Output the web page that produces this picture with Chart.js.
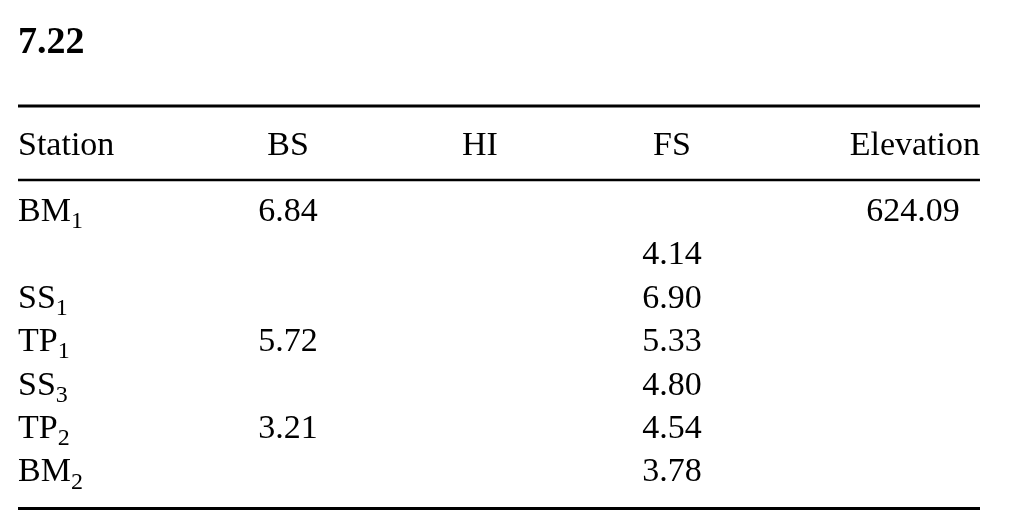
<!DOCTYPE html>
<html>
<head>
<meta charset="utf-8">
<script src="https://cdn.jsdelivr.net/npm/chart.js@4"></script>
<style>
  html, body { margin: 0; padding: 0; background: #fff; }
  #wrap { width: 1013px; height: 523px; }
</style>
</head>
<body>
<div id="wrap"><canvas id="tableChart"></canvas></div>
<script>
// table content
const title = '7.22';
const headers = ['Station', 'BS', 'HI', 'FS', 'Elevation'];
const stations = [['BM', '1'], ['', ''], ['SS', '1'], ['TP', '1'], ['SS', '3'], ['TP', '2'], ['BM', '2']];
const bsValues = [6.84, null, null, 5.72, null, 3.21, null];
const hiValues = [null, null, null, null, null, null, null];
const fsValues = [null, 4.14, 6.90, 5.33, 4.80, 4.54, 3.78];
const elevValues = [624.09, null, null, null, null, null, null];

const FONT = '"Liberation Serif", "Times New Roman", serif';

// column centres in x-scale units
const colX = { station: 18, bs: 288, hi: 480, fs: 672, elev: 913, right: 980 };

const tablePlugin = {
    id: 'tablePlugin',
    afterDraw(chart) {
        const ctx = chart.ctx;
        const xs = chart.scales.x, ys = chart.scales.y;
        const X = v => xs.getPixelForValue(v);
        const Y = v => ys.getPixelForValue(v);
        ctx.save();
        ctx.fillStyle = '#000';
        ctx.strokeStyle = '#000';
        ctx.textBaseline = 'middle';

        // title
        ctx.font = 'bold 38px ' + FONT;
        ctx.textAlign = 'left';
        ctx.fillText(title, X(colX.station), Y(-3.88));

        // rules
        const rule = (row, w) => {
            ctx.lineWidth = w;
            ctx.beginPath();
            ctx.moveTo(X(colX.station), Y(row));
            ctx.lineTo(X(colX.right), Y(row));
            ctx.stroke();
        };
        rule(-2.44, 3);
        rule(-0.74, 2.5);
        rule(6.83, 3);

        // header
        ctx.font = '34px ' + FONT;
        const hy = Y(-1.52);
        ctx.textAlign = 'left';
        ctx.fillText(headers[0], X(colX.station), hy);
        ctx.textAlign = 'center';
        ctx.fillText(headers[1], X(colX.bs), hy);
        ctx.fillText(headers[2], X(colX.hi), hy);
        ctx.fillText(headers[3], X(colX.fs), hy);
        ctx.textAlign = 'right';
        ctx.fillText(headers[4], X(colX.right), hy);

        // body
        stations.forEach((s, i) => {
            const y = Y(i);
            ctx.textAlign = 'left';
            ctx.font = '34px ' + FONT;
            ctx.fillText(s[0], X(colX.station), y);
            const w = ctx.measureText(s[0]).width;
            ctx.font = '24px ' + FONT;
            ctx.fillText(s[1], X(colX.station) + w, y + 10);
            ctx.font = '34px ' + FONT;
            ctx.textAlign = 'center';
            if (bsValues[i] != null) ctx.fillText(bsValues[i].toFixed(2), X(colX.bs), y);
            if (hiValues[i] != null) ctx.fillText(hiValues[i].toFixed(2), X(colX.hi), y);
            if (fsValues[i] != null) ctx.fillText(fsValues[i].toFixed(2), X(colX.fs), y);
            if (elevValues[i] != null) ctx.fillText(elevValues[i].toFixed(2), X(colX.elev), y);
        });
        ctx.restore();
    }
};

const cell = (arr, x) => arr.map((v, i) => v == null ? null : { x: x, y: i }).filter(p => p);

new Chart(document.getElementById('tableChart'), {
    type: 'scatter',
    data: {
        datasets: [
            { label: 'BS', data: cell(bsValues, colX.bs), pointRadius: 0 },
            { label: 'FS', data: cell(fsValues, colX.fs), pointRadius: 0 },
            { label: 'Elevation', data: cell(elevValues, colX.elev), pointRadius: 0 }
        ]
    },
    options: {
        responsive: true,
        maintainAspectRatio: false,
        animation: false,
        layout: { padding: 0 },
        plugins: { legend: { display: false }, tooltip: { enabled: false } },
        scales: {
            x: { type: 'linear', min: 0, max: 1013, display: false },
            y: { type: 'linear', min: -4.885, max: 7.166, reverse: true, display: false }
        }
    },
    plugins: [tablePlugin]
});
</script>
</body>
</html>
